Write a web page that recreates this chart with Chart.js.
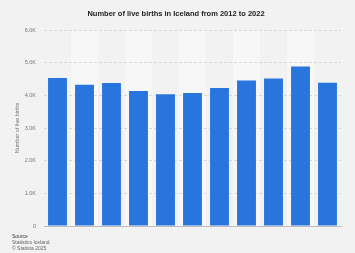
<!DOCTYPE html>
<html><head><meta charset="utf-8">
<script src="https://cdn.jsdelivr.net/npm/chart.js@4/dist/chart.umd.min.js"></script>
<style>
html,body{margin:0;padding:0;background:#f2f2f2;}
#wrap{position:relative;width:355px;height:253px;overflow:hidden;font-family:"Liberation Sans",Arial,sans-serif;}
canvas{position:absolute;left:0;top:0;}
#foot{position:absolute;left:12px;top:233px;font-size:5px;line-height:6px;color:#666;}
#foot b{color:#333;font-weight:normal;}
</style></head>
<body><div id="wrap"><canvas id="c" width="355" height="253"></canvas>
<div id="foot"><b>Source</b><br>Statistics Iceland<br>© Statista 2025</div></div>
<script>
const categories = ["2012","2013","2014","2015","2016","2017","2018","2019","2020","2021","2022"];
const births = [4533,4326,4375,4129,4034,4071,4228,4454,4512,4879,4382];
const yTicks = [0,1000,2000,3000,4000,5000,6000];

const bgPlugin = {
  id:'bg',
  beforeDraw(chart){
    const {ctx, chartArea:a, scales:{x}} = chart;
    ctx.save();
    ctx.fillStyle = '#f2f2f2';
    ctx.fillRect(0,0,chart.width,chart.height);
    const w = (a.right - a.left)/categories.length;
    ctx.fillStyle = '#f7f7f7';
    categories.forEach((c,i)=>{
      if(i%2===1){ const cx = x.getPixelForValue(i); ctx.fillRect(cx-w/2, a.top, w, a.bottom-a.top); }
    });
    ctx.restore();
  }
};

new Chart(document.getElementById('c'), {
  type:'bar',
  data:{labels:categories, datasets:[{data:births, backgroundColor:'#2876dd', barPercentage:0.7, categoryPercentage:1}]},
  options:{
    responsive:false, animation:false,
    layout:{padding:{left:11,right:14,top:0,bottom:19}},
    plugins:{
      legend:{display:false}, tooltip:{enabled:false},
      title:{display:true, text:'Number of live births in Iceland from 2012 to 2022', color:'#222',
        font:{family:'Liberation Sans', size:7.5, weight:'bold'}, padding:{top:9,bottom:12}}
    },
    scales:{
      x:{grid:{display:false}, ticks:{display:false}, border:{display:true,color:'#bdbdbd',width:1}},
      y:{min:0,max:6000,
        afterBuildTicks(s){ s.ticks = yTicks.map(v=>({value:v})); },
        afterFit(s){ s.width = 33; },
        ticks:{color:'#777', font:{family:'Liberation Sans',size:5.5}, padding:8,
          callback:v=> v===0 ? '0' : (v/1000).toFixed(1)+'K'},
        grid:{color:'#d9d9d9', drawTicks:false},
        border:{display:false, dash:[3,2]},
        title:{display:true, text:'Number of live births', color:'#777', font:{family:'Liberation Sans',size:5.5}, padding:{top:3,bottom:0}}
      }
    }
  },
  plugins:[bgPlugin]
});
</script></body></html>
